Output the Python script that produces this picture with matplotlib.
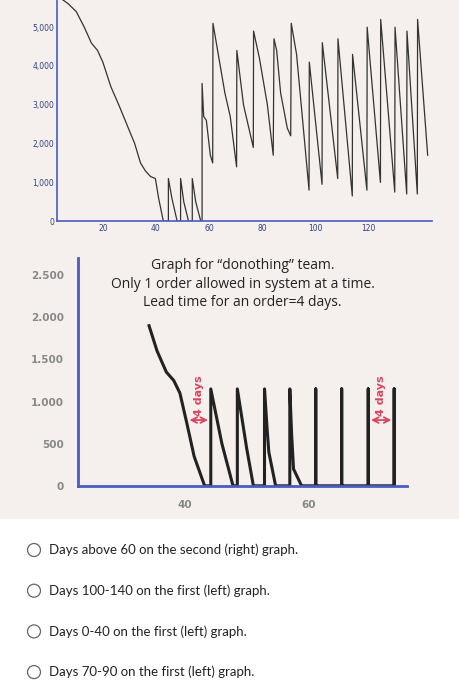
import matplotlib
matplotlib.use('Agg')
import matplotlib.pyplot as plt
from matplotlib.patches import Ellipse

# gorny wykres - zapas w czasie
dni1 = [5, 7, 10, 13, 15.7, 18, 20, 23, 26, 29, 32, 34.2, 36, 38, 39.8, 41, 42.8,
        44.7, 44.7, 46, 48, 49.3, 49.3, 50.5, 52.3, 53.7, 53.7, 55, 56.9,
        57.4, 57.4, 58, 59, 60.5, 61.4, 61.5, 63, 66, 68, 70.4, 70.5, 73, 76.7,
        76.8, 79, 82, 84.2, 84.5, 85.5, 87, 89.5, 90.8, 91, 93, 97.7, 97.8,
        102.6, 102.7, 108.5, 108.6, 114, 114.1, 119.5, 119.6, 124.6, 124.7,
        130, 130.1, 134.5, 134.6, 138.5, 138.6, 142.4]
zapas1 = [5700, 5600, 5400, 5000, 4590, 4400, 4100, 3470, 3000, 2500, 2000, 1500, 1300, 1150, 1100, 600, 0,
          0, 1100, 600, 0, 0, 1100, 500, 0, 0, 1100, 500, 0,
          0, 3550, 2700, 2600, 1700, 1500, 5100, 4500, 3300, 2700, 1400, 4400, 3000, 1900,
          4900, 4200, 3000, 1700, 4700, 4400, 3300, 2400, 2200, 5100, 4300, 800, 4100,
          950, 4600, 1100, 4700, 650, 4300, 800, 5000, 1000, 5200,
          750, 5000, 700, 4900, 700, 5200, 1700]

# dolny wykres - zespol "donothing"
dni2 = [34.2, 35.5, 37.0, 38.2, 39.2, 40.3, 41.5, 43.2, 44.2, 44.2, 46, 47.8, 48.5, 48.5, 50, 51.1,
        52.9, 52.9, 53.3, 53.6, 54.7, 57.0, 57.0, 57.3, 57.6, 58.9, 61.2, 61.2, 61.2,
        65.4, 65.4, 65.4, 69.7, 69.7, 69.7, 73.9, 73.9, 73.9]
zapas2 = [1900, 1600, 1350, 1250, 1100, 750, 350, 0, 0, 1150, 500, 0, 0, 1150, 450, 0,
          0, 1150, 700, 400, 0, 0, 1150, 600, 200, 0, 0, 1150, 0,
          0, 1150, 0, 0, 1150, 0, 0, 1150, 0]

opcje = ['Days above 60 on the second (right) graph.',
         'Days 100-140 on the first (left) graph.',
         'Days 0-40 on the first (left) graph.',
         'Days 70-90 on the first (left) graph.']

niebieski = '#4a5cc0'
tlo = '#f5f0ee'

fig = plt.figure(figsize=(4.59, 7), dpi=100)
fig.patch.set_facecolor('white')
fig.add_artist(plt.Rectangle((0, 0.26), 1, 0.74, transform=fig.transFigure, color=tlo, zorder=0))

ax1 = fig.add_axes([0.124, 0.684, 0.817, 0.316])
ax1.set_facecolor('none')
ax1.plot(dni1, zapas1, color='#333333', lw=0.9)
ax1.set_xlim(2.7, 144)
ax1.set_ylim(0, 5700)
ax1.set_xticks([20, 40, 60, 80, 100, 120])
ax1.set_yticks([0, 1000, 2000, 3000, 4000, 5000])
ax1.set_yticklabels(['0', '1,000', '2,000', '3,000', '4,000', '5,000'])
for s in ['top', 'right']:
    ax1.spines[s].set_visible(False)
for s in ['left', 'bottom']:
    ax1.spines[s].set_color(niebieski)
    ax1.spines[s].set_linewidth(1.2)
ax1.tick_params(length=0, labelsize=5.5, colors='#33407a', pad=2)

ax2 = fig.add_axes([0.170, 0.306, 0.717, 0.325])
ax2.set_facecolor('none')
ax2.plot(dni2, zapas2, color='#222222', lw=2.2)
ax2.set_xlim(22.7, 76)
ax2.set_ylim(0, 2700)
ax2.set_xticks([40, 60])
ax2.set_yticks([0, 500, 1000, 1500, 2000, 2500])
ax2.set_yticklabels(['0', '500', '1.000', '1.500', '2.000', '2.500'])
for s in ['top', 'right']:
    ax2.spines[s].set_visible(False)
for s in ['left', 'bottom']:
    ax2.spines[s].set_color(niebieski)
    ax2.spines[s].set_linewidth(2)
ax2.tick_params(length=0, labelsize=7.5, colors='#888888', pad=10)
for t in ax2.get_xticklabels() + ax2.get_yticklabels():
    t.set_fontweight('bold')

for a, b in [(40.3, 44.2), (69.7, 73.9)]:
    ax2.annotate('', xy=(a, 780), xytext=(b, 780),
                 arrowprops=dict(arrowstyle='<->', color='#d9455f', lw=1.3))
    ax2.text((a + b) / 2, 830, '4 days', rotation=90, color='#d9455f', fontsize=8,
             fontweight='bold', ha='center', va='bottom')

ax2.text(0.5, 1.0, 'Graph for \u201cdonothing\u201d team.\nOnly 1 order allowed in system at a time.\nLead time for an order=4 days.',
         transform=ax2.transAxes, ha='center', va='top', fontsize=10, family='Open Sans',
         color='#222222', linespacing=1.3)

for i, t in enumerate(opcje):
    y = 1 - (550 + i * 40.7) / 700
    fig.add_artist(Ellipse((34 / 459, y), 13 / 459, 13 / 700, transform=fig.transFigure,
                           fill=False, ec='#666666', lw=0.9))
    fig.text(49 / 459, y, t, fontsize=9.5, family='Lato', va='center', color='#222222')

fig.savefig('out.png', dpi=100)
